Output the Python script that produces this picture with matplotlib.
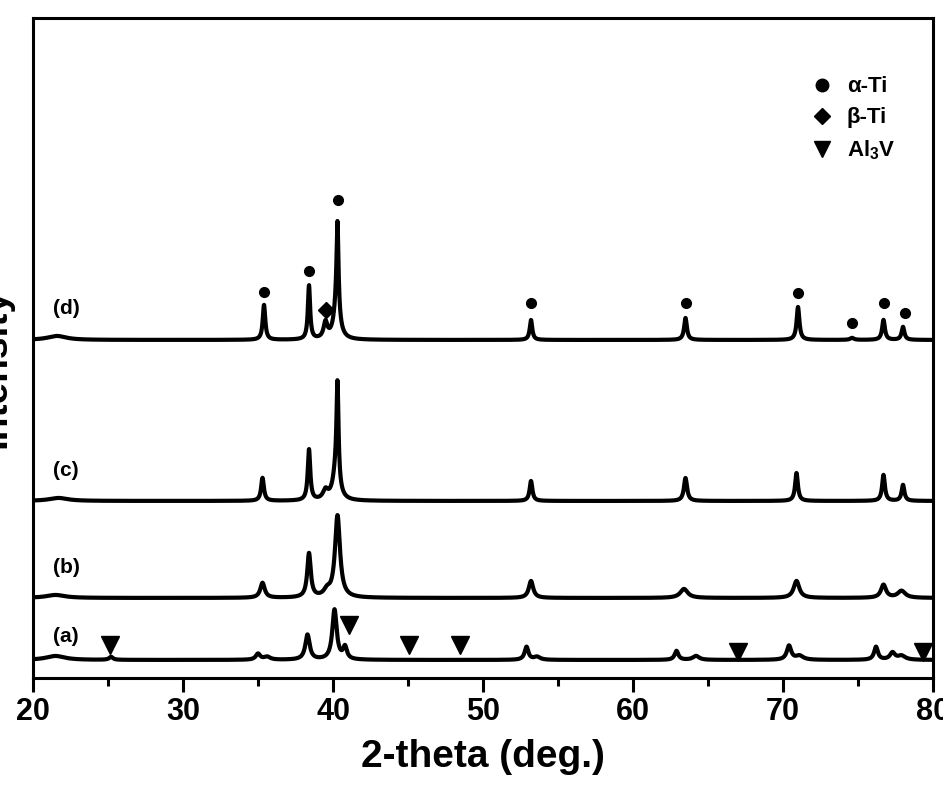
import matplotlib
matplotlib.use("Agg")
import matplotlib.pyplot as plt
from matplotlib.lines import Line2D
import numpy as np

plt.rcParams['font.family'] = ['Liberation Sans', 'DejaVu Sans']
plt.rcParams['font.weight'] = 'bold'
plt.rcParams['mathtext.fontset'] = 'custom'
plt.rcParams['mathtext.rm'] = 'Liberation Sans:bold'
plt.rcParams['mathtext.default'] = 'rm'

# peak tables: position (deg), height, FWHM (deg)
d_pos = [21.6, 35.4, 38.4, 39.5, 40.25, 40.3, 53.2, 63.5, 71.0, 74.6, 76.7, 78.0]
d_int = [4, 35, 54, 16, 35, 85, 20, 22, 33, 2, 20, 13]
d_fwhm = [1.5, 0.2, 0.18, 0.3, 0.45, 0.15, 0.2, 0.22, 0.22, 0.3, 0.22, 0.22]

c_pos = [21.7, 35.3, 38.4, 39.5, 40.2, 40.3, 53.2, 63.5, 70.9, 76.7, 78.0]
c_int = [3, 23, 51, 9, 28, 96, 20, 23, 28, 26, 16]
c_fwhm = [1.5, 0.22, 0.2, 0.4, 0.5, 0.16, 0.22, 0.25, 0.22, 0.22, 0.22]

b_pos = [21.5, 35.3, 38.4, 39.6, 40.3, 53.2, 63.4, 70.9, 76.7, 77.9]
b_int = [3, 15, 44, 6, 82, 17, 9, 17, 13, 7]
b_fwhm = [1.5, 0.35, 0.28, 0.5, 0.4, 0.35, 0.6, 0.45, 0.4, 0.6]

a_pos = [21.5, 25.2, 35.0, 35.6, 38.3, 40.1, 40.8, 52.9, 53.6, 62.9, 64.2, 70.4, 71.1, 76.2, 77.3, 77.9]
a_int = [4, 3, 6, 3, 25, 50, 12, 13, 3, 9, 4, 14, 4, 13, 7, 4]
a_fwhm = [1.5, 0.3, 0.35, 0.5, 0.35, 0.35, 0.3, 0.3, 0.5, 0.3, 0.5, 0.35, 0.6, 0.3, 0.4, 0.6]

offsets = {'a': 18, 'b': 80, 'c': 177, 'd': 338}
label_y = {'a': 41, 'b': 110, 'c': 207, 'd': 369}

# phase markers
alpha_x = [35.4, 38.4, 40.3, 53.2, 63.5, 71.0, 74.6, 76.7, 78.1]
alpha_y = [386, 407, 478, 375, 375, 385, 355, 375, 365]
beta_x = [39.55]
beta_y = [368]
al3v_x = [25.1, 41.05, 45.05, 48.45, 67.0, 79.3]
al3v_y = [33, 53, 33, 33, 26, 26]

two_theta = np.linspace(20, 80, 4001)


def pattern(pos, amp, fwhm, base):
    y = np.full_like(two_theta, float(base))
    for p, h, w in zip(pos, amp, fwhm):
        g = (w / 2) ** 2
        y += h * g / ((two_theta - p) ** 2 + g)
    return y


fig = plt.figure(figsize=(9.43, 8.01), dpi=100)
ax = fig.add_axes([0.035, 0.1536, 0.9544, 0.824])

series = [('a', a_pos, a_int, a_fwhm), ('b', b_pos, b_int, b_fwhm),
          ('c', c_pos, c_int, c_fwhm), ('d', d_pos, d_int, d_fwhm)]
for name, pos, amp, fw in series:
    ax.plot(two_theta, pattern(pos, amp, fw, offsets[name]), color='black', lw=3)
    ax.text(22.2, label_y[name], '(%s)' % name, fontsize=15, fontweight='bold',
            ha='center', va='center')

ax.plot(alpha_x, alpha_y, 'o', color='black', ms=7, ls='none')
ax.plot(beta_x, beta_y, 'D', color='black', ms=8, ls='none')
ax.plot(al3v_x, al3v_y, 'v', color='black', ms=13, ls='none', clip_on=False)

handles = [Line2D([], [], marker='o', color='black', ls='none', ms=9),
           Line2D([], [], marker='D', color='black', ls='none', ms=8),
           Line2D([], [], marker='v', color='black', ls='none', ms=11)]
ax.legend(handles, ['\u03b1-Ti', '\u03b2-Ti', 'Al$_3$V'], loc='upper right',
          bbox_to_anchor=(0.968, 0.925), frameon=False, prop={'size': 16, 'weight': 'bold'},
          handletextpad=0.6, labelspacing=0.45, handlelength=1.0, borderaxespad=0)

ax.set_xlim(20, 80)
ax.set_ylim(0, 660)
ax.set_xticks(np.arange(20, 81, 10))
ax.set_xticks(np.arange(25, 80, 10), minor=True)
ax.set_yticks([])
ax.tick_params(axis='x', which='major', direction='out', length=10, width=2.2,
               labelsize=22, pad=4)
ax.tick_params(axis='x', which='minor', direction='out', length=6, width=2.2)
for lab in ax.get_xticklabels():
    lab.set_fontweight('bold')
for s in ax.spines.values():
    s.set_linewidth(2.2)

ax.set_xlabel('2-theta (deg.)', fontsize=28, fontweight='bold', labelpad=8)
ax.set_ylabel('Intensity', fontsize=28, fontweight='bold')
ax.yaxis.set_label_coords(-0.022, 0.47)

fig.savefig('out.png', dpi=100)
